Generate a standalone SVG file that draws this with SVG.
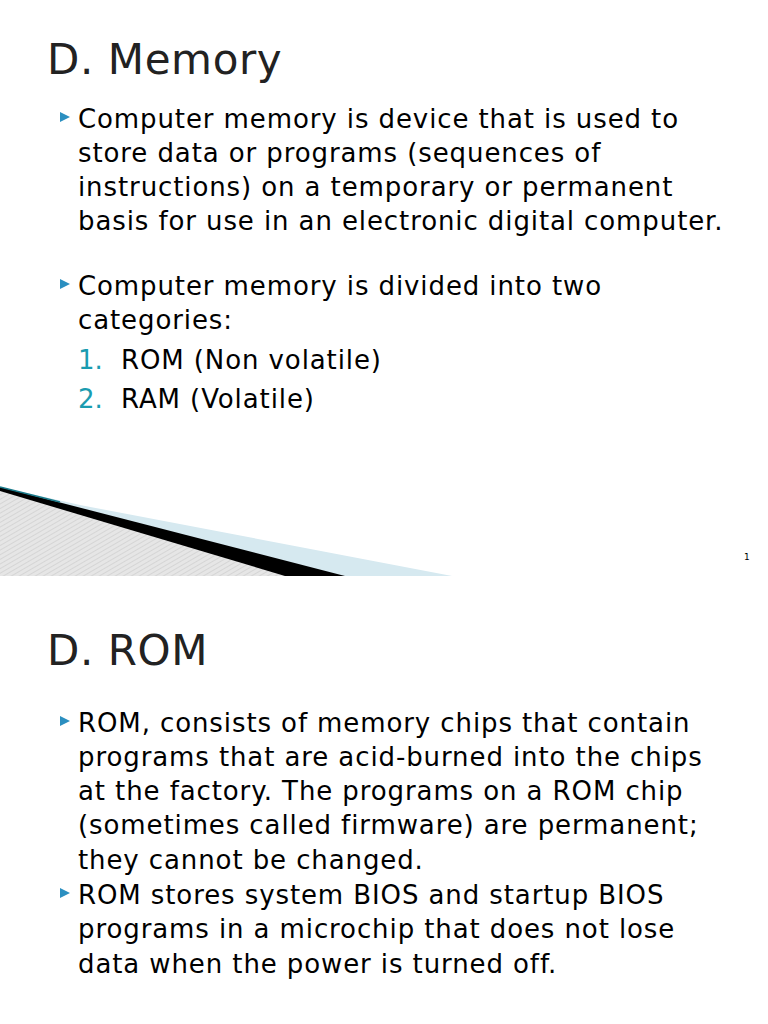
<svg xmlns="http://www.w3.org/2000/svg" width="768" height="1024" viewBox="0 0 768 1024">
<style>
.t{font-family:"DejaVu Sans",Verdana,sans-serif;font-size:26px;letter-spacing:0.9px;fill:#000}
.h{font-family:"DejaVu Sans",Verdana,sans-serif;font-size:42px;letter-spacing:0.6px;fill:#222}
.n{font-family:"DejaVu Sans",Verdana,sans-serif;font-size:26px;fill:#1a9cb0}
.b{fill:#2b8fc0}
</style>
<defs>
<pattern id="hatch" width="4" height="4" patternUnits="userSpaceOnUse" patternTransform="rotate(60)">
<rect width="4" height="4" fill="#e6e6e6"/><line x1="0" y1="0" x2="0" y2="4" stroke="#c4c4c4" stroke-width="1"/>
</pattern>
</defs>
<rect width="768" height="1024" fill="#fff"/>
<text class="h" x="47" y="74">D. Memory</text>
<polygon class="b" points="60,112 70,117 60,122"/>
<text class="t"><tspan x="78" y="128">Computer memory is device that is used to</tspan><tspan x="78" y="162">store data or programs (sequences of</tspan><tspan x="78" y="196">instructions) on a temporary or permanent</tspan><tspan x="78" y="230">basis for use in an electronic digital computer.</tspan></text>
<polygon class="b" points="60,279 70,284 60,289"/>
<text class="t"><tspan x="78" y="295">Computer memory is divided into two</tspan><tspan x="78" y="329">categories:</tspan></text>
<text class="n" x="78" y="369">1.</text><text class="t" x="121" y="369">ROM (Non volatile)</text>
<text class="n" x="78" y="408">2.</text><text class="t" x="121" y="408">RAM (Volatile)</text>
<polygon points="0,487 80,505 452,576 0,576" fill="#d6e9f0"/>
<polygon points="0,487 345,576 0,576" fill="#000"/>
<polygon points="0,491 285,576 0,576" fill="url(#hatch)"/>
<line x1="0" y1="487" x2="60" y2="502" stroke="#1a7a8a" stroke-width="1.5"/>
<text x="744" y="560" font-family="DejaVu Sans,sans-serif" font-size="9">1</text>
<text class="h" x="47" y="665">D. ROM</text>
<polygon class="b" points="60,716 70,721 60,726"/>
<text class="t"><tspan x="78" y="732">ROM, consists of memory chips that contain</tspan><tspan x="78" y="766">programs that are acid-burned into the chips</tspan><tspan x="78" y="800">at the factory. The programs on a ROM chip</tspan><tspan x="78" y="834">(sometimes called firmware) are permanent;</tspan><tspan x="78" y="869">they cannot be changed.</tspan></text>
<polygon class="b" points="60,888 70,893 60,898"/>
<text class="t"><tspan x="78" y="904">ROM stores system BIOS and startup BIOS</tspan><tspan x="78" y="938">programs in a microchip that does not lose</tspan><tspan x="78" y="973">data when the power is turned off.</tspan></text>
</svg>
